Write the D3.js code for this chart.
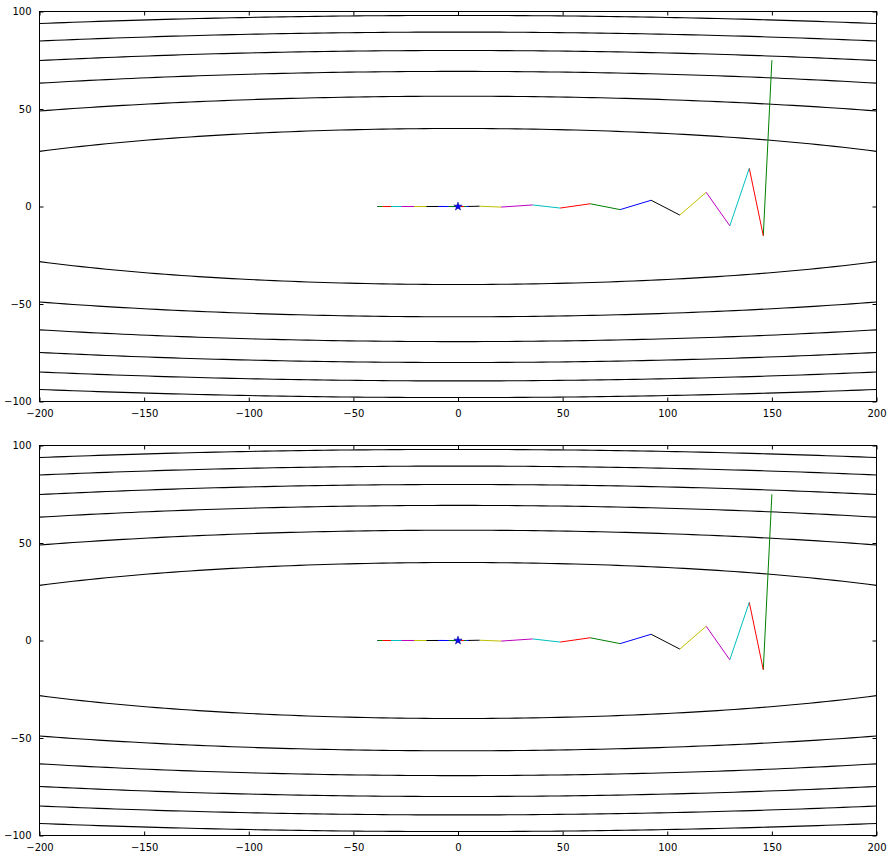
<!DOCTYPE html>
<html>
<head>
<meta charset="utf-8">
<script src="https://cdn.jsdelivr.net/npm/d3@7"></script>
<style>
  html, body { margin: 0; padding: 0; background: #fff; }
  svg { display: block; }
  .tick text { font-family: "DejaVu Sans", sans-serif; font-size: 10px; fill: #000; }
</style>
</head>
<body>
<svg id="chart" width="894" height="856"></svg>
<script>
// ---------- data ----------
const xTicks = [-200, -150, -100, -50, 0, 50, 100, 150, 200];
const yTicks = [-100, -50, 0, 50, 100];
const xDomain = [-200, 200];
const yDomain = [-100, 100];
// contour levels of f(x, y) = x^2 + 50 y^2
const contourLevels = [80000, 160000, 240000, 320000, 400000, 480000];
const yWeight = 50;
// optimisation path
const pathX = [150, 145.9, 139.2, 129.9, 118.6, 106.0, 92.3, 77.5, 63.2, 48.8, 35.7, 20.6,
  10.3, 0.5, -8.5, -16.5, -23.5, -29.5, -34.0, -37.0, -38.5, -38.3, -36.0, -32.0, -27.0,
  -21.0, -15.0, -9.5, -4.5, -0.5, 2.5, 4.5, 5.5, 5.7, 5.0, 4.0, 2.8, 1.5, 0.5, -0.2];
const pathY = [75, -15.0, 19.6, -9.9, 7.3, -4.4, 3.2, -1.6, 1.4, -0.8, 0.8, -0.3,
  0.15, -0.08, 0.04, -0.02, 0.01, 0, 0, 0, 0, 0, 0, 0, 0,
  0, 0, 0, 0, 0, 0, 0, 0, 0, 0, 0, 0, 0, 0, 0];
const colorCycle = ["#0000ff", "#008000", "#ff0000", "#00bfbf", "#bf00bf", "#bfbf00", "#000000"];
const cycleOffset = 1;
const minimum = [0, 0];

// ---------- layout ----------
const svg = d3.select("#chart");
const left = 39.5, right = 876.5;
const panels = [{ top: 11.5, bottom: 401.5 }, { top: 445.5, bottom: 835.5 }];

panels.forEach((p, pi) => {
  const x = d3.scaleLinear().domain(xDomain).range([left, right]);
  const y = d3.scaleLinear().domain(yDomain).range([p.bottom, p.top]);
  const g = svg.append("g");

  const clipId = "clip" + pi;
  svg.append("clipPath").attr("id", clipId).append("rect")
    .attr("x", left).attr("y", p.top).attr("width", right - left).attr("height", p.bottom - p.top);

  const plot = g.append("g").attr("clip-path", `url(#${clipId})`);

  // contour lines
  const xs = d3.range(xDomain[0], xDomain[1] + 0.001, 4);
  const line = d3.line().x(d => x(d[0])).y(d => y(d[1])).curve(d3.curveLinear);
  contourLevels.forEach(L => {
    [1, -1].forEach(sign => {
      const pts = xs.map(xv => [xv, sign * Math.sqrt(Math.max(0, (L - xv * xv) / yWeight))]);
      plot.append("path").attr("d", line(pts))
        .attr("fill", "none").attr("stroke", "#000").attr("stroke-width", 1.1);
    });
  });

  // path segments
  for (let i = 0; i < pathX.length - 1; i++) {
    plot.append("line")
      .attr("x1", x(pathX[i])).attr("y1", y(pathY[i]))
      .attr("x2", x(pathX[i + 1])).attr("y2", y(pathY[i + 1]))
      .attr("stroke", colorCycle[(i + cycleOffset) % colorCycle.length])
      .attr("stroke-width", 1);
  }

  // star at minimum
  plot.append("path")
    .attr("d", d3.symbol().type(d3.symbolStar).size(22)())
    .attr("transform", `translate(${x(minimum[0])},${y(minimum[1])})`)
    .attr("fill", "#0000ff").attr("stroke", "#00007f").attr("stroke-width", 0.5);

  // axes (ticks inside on all sides)
  const tl = 4;
  g.append("g").attr("transform", `translate(0,${p.bottom})`)
    .call(d3.axisBottom(x).tickValues(xTicks).tickSizeInner(-tl).tickSizeOuter(0).tickPadding(8))
    .call(a => a.select(".domain").remove());
  g.append("g").attr("transform", `translate(0,${p.top})`)
    .call(d3.axisTop(x).tickValues(xTicks).tickSizeInner(-tl).tickSizeOuter(0).tickFormat(""))
    .call(a => a.select(".domain").remove());
  g.append("g").attr("transform", `translate(${left},0)`)
    .call(d3.axisLeft(y).tickValues(yTicks).tickSizeInner(-tl).tickSizeOuter(0).tickPadding(8))
    .call(a => a.select(".domain").remove());
  g.append("g").attr("transform", `translate(${right},0)`)
    .call(d3.axisRight(y).tickValues(yTicks).tickSizeInner(-tl).tickSizeOuter(0).tickFormat(""))
    .call(a => a.select(".domain").remove());

  g.selectAll(".tick line").attr("stroke", "#000");

  g.append("rect").attr("x", left).attr("y", p.top)
    .attr("width", right - left).attr("height", p.bottom - p.top)
    .attr("fill", "none").attr("stroke", "#000").attr("stroke-width", 1);
});
</script>
</body>
</html>
